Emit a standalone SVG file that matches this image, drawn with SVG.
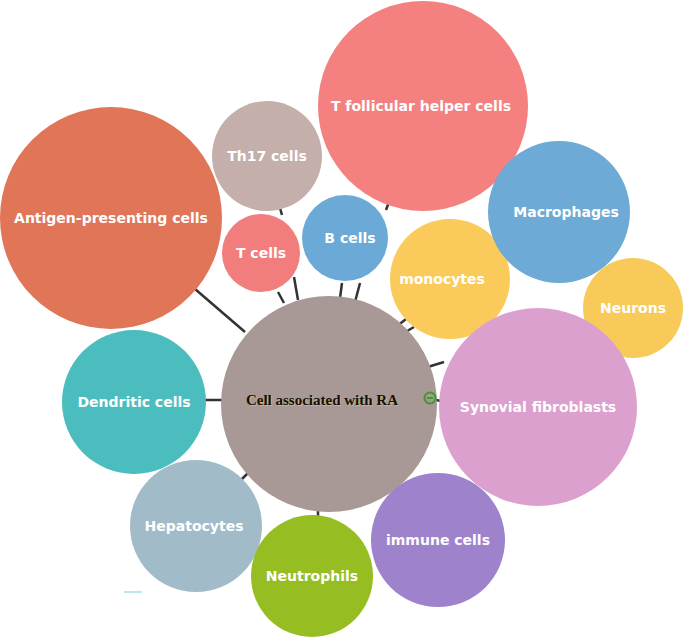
<svg xmlns="http://www.w3.org/2000/svg" width="685" height="639" viewBox="0 0 685 639">
<style>
.lbl{font-family:"DejaVu Sans",Verdana,sans-serif;font-weight:bold;font-size:14px;fill:#fff;text-anchor:middle;dominant-baseline:central}
.ctr{font-family:"Liberation Serif","Times New Roman",serif;font-weight:bold;font-size:15px;fill:#111;text-anchor:middle;dominant-baseline:central}
.ln{stroke:#333;stroke-width:2.5;fill:none;stroke-linecap:butt}
</style>
<rect width="685" height="639" fill="#fff"/>
<g id="connectors">
<line class="ln" x1="195" y1="289" x2="245" y2="332"/>
<line class="ln" x1="205" y1="400" x2="222" y2="400"/>
<line class="ln" x1="241" y1="480" x2="250" y2="471"/>
<line class="ln" x1="387" y1="477" x2="395" y2="488"/>
<line class="ln" x1="318" y1="500" x2="318" y2="516"/>
<line class="ln" x1="418" y1="370" x2="444" y2="362"/>
<line class="ln" x1="436" y1="400" x2="441" y2="401"/>
<line class="ln" x1="572" y1="325" x2="585" y2="321"/>
<line class="ln" x1="503" y1="256" x2="507" y2="253"/>
<line class="ln" x1="280" y1="208" x2="282" y2="215"/>
<line class="ln" x1="386" y1="210" x2="389" y2="202"/>
<line class="ln" x1="278" y1="292" x2="284" y2="303"/>
<line class="ln" x1="294" y1="277" x2="298" y2="300"/>
<line class="ln" x1="342" y1="283" x2="340" y2="298"/>
<line class="ln" x1="360" y1="283" x2="355" y2="302"/>
<line class="ln" x1="396" y1="327" x2="406" y2="319"/>
<line class="ln" x1="402" y1="334" x2="414" y2="327"/>
</g>
<g id="apc"><circle cx="111" cy="218" r="111" fill="#E07558"/><text class="lbl" x="111" y="218">Antigen-presenting cells</text></g>
<g id="tfh"><circle cx="423" cy="106" r="105" fill="#F48080"/><text class="lbl" x="421" y="106">T follicular helper cells</text></g>
<g id="th17"><circle cx="267" cy="156" r="55" fill="#C4AFAA"/><text class="lbl" x="267" y="156">Th17 cells</text></g>
<g id="tcells"><circle cx="261" cy="253" r="39" fill="#F27D7D"/><text class="lbl" x="261" y="253">T cells</text></g>
<g id="bcells"><circle cx="345" cy="238" r="43" fill="#6BAAD6"/><text class="lbl" x="350" y="238">B cells</text></g>
<g id="monocytes"><circle cx="450" cy="279" r="60" fill="#FACB5A"/><text class="lbl" x="442" y="279">monocytes</text></g>
<g id="macrophages"><circle cx="559" cy="212" r="71" fill="#6DAAD6"/><text class="lbl" x="566" y="212">Macrophages</text></g>
<g id="neurons"><circle cx="633" cy="308" r="50" fill="#F8CA5A"/><text class="lbl" x="633" y="308">Neurons</text></g>
<g id="synovial"><circle cx="538" cy="407" r="99" fill="#DCA0CE"/><text class="lbl" x="538" y="407">Synovial fibroblasts</text></g>
<g id="center"><circle cx="329" cy="404" r="108" fill="#A89896"/><text class="ctr" x="322.7" y="400.7" style="fill:#d8b860">Cell associated with RA</text><text class="ctr" x="322" y="400">Cell associated with RA</text></g>
<g id="minus"><circle cx="430" cy="398" r="5.5" fill="none" stroke="#3a9a2a" stroke-width="2"/><line x1="427" y1="398" x2="433" y2="398" stroke="#3a9a2a" stroke-width="2"/></g>
<g id="dendritic"><circle cx="134" cy="402" r="72" fill="#4BBDBE"/><text class="lbl" x="134" y="402">Dendritic cells</text></g>
<g id="hepatocytes"><circle cx="196" cy="526" r="66" fill="#A1BCC8"/><text class="lbl" x="194" y="526">Hepatocytes</text></g>
<g id="neutrophils"><circle cx="312" cy="576" r="61" fill="#96BE22"/><text class="lbl" x="312" y="576">Neutrophils</text></g>
<g id="immune"><circle cx="438" cy="540" r="67" fill="#9E82CC"/><text class="lbl" x="438" y="540">immune cells</text></g>
<line x1="124" y1="592" x2="142" y2="592" stroke="#bfe6ea" stroke-width="2"/>
</svg>
